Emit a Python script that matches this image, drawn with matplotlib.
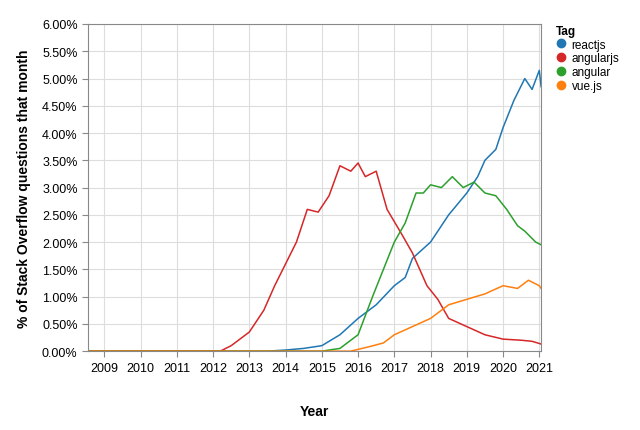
import matplotlib.pyplot as plt
from matplotlib.ticker import FuncFormatter

plt.rcParams['font.family'] = ['Liberation Sans', 'DejaVu Sans']

react_x = [2008.6, 2013.5, 2014.0, 2014.5, 2015.0, 2015.5, 2016.0, 2016.5, 2017.0, 2017.3, 2017.5, 2018.0, 2018.5, 2019.0, 2019.3, 2019.5, 2019.8, 2020.0, 2020.3, 2020.6, 2020.8, 2021.0, 2021.05]
react_y = [0, 0, 0.02, 0.05, 0.1, 0.3, 0.6, 0.85, 1.2, 1.35, 1.7, 2.0, 2.5, 2.9, 3.2, 3.5, 3.7, 4.1, 4.6, 5.0, 4.8, 5.15, 4.85]

ajs_x = [2008.6, 2012.2, 2012.5, 2013.0, 2013.4, 2013.7, 2014.0, 2014.3, 2014.6, 2014.9, 2015.2, 2015.5, 2015.8, 2016.0, 2016.2, 2016.5, 2016.8, 2017.2, 2017.5, 2017.9, 2018.2, 2018.5, 2019.0, 2019.5, 2020.0, 2020.5, 2020.8, 2021.05]
ajs_y = [0, 0, 0.1, 0.35, 0.75, 1.2, 1.6, 2.0, 2.6, 2.55, 2.85, 3.4, 3.3, 3.45, 3.2, 3.3, 2.6, 2.15, 1.8, 1.2, 0.95, 0.6, 0.45, 0.3, 0.22, 0.2, 0.18, 0.13]

ang_x = [2008.6, 2015.0, 2015.5, 2016.0, 2016.4, 2016.7, 2017.0, 2017.3, 2017.6, 2017.8, 2018.0, 2018.3, 2018.6, 2018.9, 2019.2, 2019.5, 2019.8, 2020.1, 2020.4, 2020.6, 2020.9, 2021.05]
ang_y = [0, 0, 0.05, 0.3, 1.0, 1.5, 2.0, 2.35, 2.9, 2.9, 3.05, 3.0, 3.2, 3.0, 3.1, 2.9, 2.85, 2.6, 2.3, 2.2, 2.0, 1.95]

vue_x = [2008.6, 2015.8, 2016.3, 2016.7, 2017.0, 2017.5, 2018.0, 2018.5, 2019.0, 2019.5, 2020.0, 2020.4, 2020.7, 2021.0, 2021.05]
vue_y = [0, 0, 0.08, 0.15, 0.3, 0.45, 0.6, 0.85, 0.95, 1.05, 1.2, 1.15, 1.3, 1.2, 1.15]

years = list(range(2009, 2022))
series = [("reactjs", react_x, react_y, "#1f77b4"),
          ("angularjs", ajs_x, ajs_y, "#d62728"),
          ("angular", ang_x, ang_y, "#2ca02c"),
          ("vue.js", vue_x, vue_y, "#ff7f0e")]

fig = plt.figure(figsize=(6.4, 4.31), dpi=100)
ax = fig.add_axes([0.1375, 0.183, 0.708, 0.759])
for name, x, y, c in series:
    ax.plot(x, y, color=c, lw=1.1, label=name)

ax.set_xlim(2008.55, 2021.05)
ax.set_ylim(0, 6)
ax.set_xticks(years)
ax.set_yticks([i * 0.5 for i in range(13)])
ax.yaxis.set_major_formatter(FuncFormatter(lambda v, p: f"{v:.2f}%"))
ax.grid(True, color="#dddddd", lw=0.8)
ax.set_axisbelow(True)
for s in ax.spines.values():
    s.set_color("#888888")
ax.tick_params(colors="#888888", labelcolor="black", labelsize=9, length=4)
ax.set_xlabel("Year", fontweight="bold", fontsize=10, labelpad=22)
ax.set_ylabel("% of Stack Overflow questions that month", fontweight="bold", fontsize=10, labelpad=8)

leg = ax.legend(loc="upper left", bbox_to_anchor=(1.01, 1.03), frameon=False, title="Tag",
                fontsize=8.5, handlelength=0.8, handletextpad=0.5, labelspacing=0.15, alignment="left")
leg.get_title().set_fontweight("bold")
leg.get_title().set_fontsize(8.5)
for h in leg.legend_handles:
    h.set_linestyle("")
    h.set_marker("o")
    h.set_markersize(6)

fig.savefig("out.png", dpi=100)
